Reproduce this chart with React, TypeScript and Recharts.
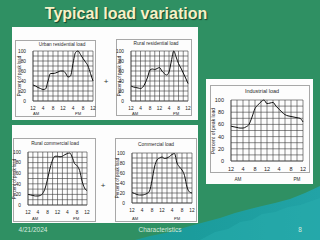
import React from "react";
import { LineChart, Line, XAxis, YAxis, CartesianGrid } from "recharts";

// Hour of day, 0 = midnight, 24 = next midnight
const hours = [0, 1, 2, 3, 4, 5, 6, 7, 8, 9, 10, 11, 12, 13, 14, 15, 16, 17, 18, 19, 20, 21, 22, 23, 24];
const xTicks = [0, 2, 4, 6, 8, 10, 12, 14, 16, 18, 20, 22, 24];
const xTickLabels: Record<number, string> = { 0: "12", 4: "4", 8: "8", 12: "12", 16: "4", 20: "8", 24: "12" };
const yTicks = [0, 10, 20, 30, 40, 50, 60, 70, 80, 90, 100];
const yTickLabels = [0, 20, 40, 60, 80, 100];

// Percent of peak load, hourly
const urbanResidential = [32, 30, 27, 25, 23, 24, 40, 55, 55, 56, 58, 60, 60, 56, 48, 50, 75, 97, 100, 93, 85, 78, 70, 55, 40];
const ruralResidential = [30, 28, 27, 26, 25, 28, 36, 48, 62, 64, 63, 65, 67, 60, 55, 52, 58, 80, 100, 88, 75, 66, 56, 46, 35];
const industrial = [57, 56, 55, 54, 54, 56, 60, 72, 86, 92, 97, 100, 94, 95, 96, 90, 85, 80, 76, 74, 73, 72, 71, 70, 64];
const ruralCommercial = [20, 19, 18, 17, 17, 18, 22, 32, 50, 70, 85, 92, 92, 91, 92, 95, 97, 98, 90, 78, 74, 65, 45, 32, 27];
const commercial = [21, 19, 17, 16, 16, 17, 19, 24, 45, 72, 86, 90, 92, 89, 90, 93, 97, 99, 80, 72, 66, 55, 32, 22, 20];

const FONT = "'Liberation Sans', Arial, sans-serif";

type Rect = [number, number, number, number];

type LoadChartProps = {
  title: string;
  values: number[];
  plot: Rect;
  box: Rect;
  titlePos: [number, number];
  labelX: number;
  amX: number;
  pmX: number;
  ampmY: number;
  fs: number;
};

const centered = (x: number, y: number, fs: number, extra: React.CSSProperties = {}): React.CSSProperties => ({
  position: "absolute",
  left: x,
  top: y,
  transform: "translate(-50%, -50%)",
  fontSize: fs,
  lineHeight: 1,
  whiteSpace: "nowrap",
  fontFamily: FONT,
  color: "#2a2a2a",
  ...extra,
});

function LoadChart({ title, values, plot, box, titlePos, labelX, amX, pmX, ampmY, fs }: LoadChartProps) {
  const [px, py, pw, ph] = plot;
  const L = 17, T = 2, R = 3, B = 13;
  const data = hours.map((h, i) => ({ h, v: values[i] }));
  const tickStyle = { fontSize: fs, fill: "#222", fontFamily: FONT };
  return (
    <>
      <div
        style={{
          position: "absolute",
          left: box[0],
          top: box[1],
          width: box[2],
          height: box[3],
          border: "1px solid #a8a8a8",
          boxSizing: "border-box",
        }}
      />
      <div style={centered(titlePos[0], titlePos[1], fs)}>{title}</div>
      <div style={centered(labelX, py + ph / 2, fs * 0.92, { transform: "translate(-50%, -50%) rotate(-90deg)" })}>
        Percent of peak load
      </div>
      <div style={centered(amX, ampmY, fs * 0.85)}>AM</div>
      <div style={centered(pmX, ampmY, fs * 0.85)}>PM</div>
      <div style={{ position: "absolute", left: px - L, top: py - T }}>
        <LineChart
          width={pw + L + R}
          height={ph + T + B}
          data={data}
          margin={{ top: T, right: R, left: 0, bottom: 0 }}
        >
          <CartesianGrid stroke="#3a3a3a" strokeWidth={0.6} />
          <XAxis
            dataKey="h"
            type="number"
            domain={[0, 24]}
            ticks={xTicks}
            interval={0}
            tickFormatter={(v: number) => xTickLabels[v] ?? ""}
            tickLine={false}
            axisLine={{ stroke: "#3a3a3a", strokeWidth: 0.6 }}
            tick={tickStyle}
            tickMargin={0}
            height={B}
          />
          <YAxis
            type="number"
            domain={[0, 100]}
            ticks={yTicks}
            interval={0}
            tickFormatter={(v: number) => (yTickLabels.includes(v) ? String(v) : "")}
            tickLine={false}
            axisLine={{ stroke: "#3a3a3a", strokeWidth: 0.6 }}
            tick={tickStyle}
            tickMargin={1}
            width={L}
          />
          <Line
            type="monotone"
            dataKey="v"
            stroke="#111"
            strokeWidth={1}
            dot={false}
            isAnimationActive={false}
          />
        </LineChart>
      </div>
    </>
  );
}

export default function App() {
  return (
    <div
      style={{
        position: "absolute",
        left: 0,
        top: 0,
        width: 320,
        height: 240,
        overflow: "hidden",
        background: "#2f9063",
        fontFamily: FONT,
      }}
    >
      {/* teal landscape in the lower right corner */}
      <div
        style={{
          position: "absolute",
          left: 0,
          top: 0,
          width: 320,
          height: 240,
          background: "linear-gradient(90deg, #1f9a8c 0%, #1b9c9c 60%, #22a3a6 100%)",
          clipPath:
            "polygon(135px 240px, 150px 236px, 170px 232px, 190px 226px, 205px 222px, 220px 218px, 235px 213px, 250px 209px, 262px 206px, 275px 203px, 290px 199px, 305px 193px, 320px 186px, 320px 240px)",
        }}
      />
      <div
        style={{
          position: "absolute",
          left: 0,
          top: 0,
          width: 320,
          height: 240,
          background: "#2bb0b0",
          opacity: 0.45,
          clipPath:
            "polygon(200px 240px, 215px 232px, 228px 229px, 240px 222px, 252px 220px, 262px 214px, 275px 212px, 288px 207px, 300px 205px, 320px 198px, 320px 240px)",
        }}
      />

      <div
        style={{
          position: "absolute",
          left: 126,
          top: 14,
          transform: "translate(-50%, -50%)",
          fontSize: 16,
          fontWeight: "bold",
          color: "#f6f1c6",
          whiteSpace: "nowrap",
          textShadow: "1px 1px 1px rgba(0,0,0,0.55)",
          lineHeight: 1,
        }}
      >
        Typical load variation
      </div>

      {/* white panels */}
      <div style={{ position: "absolute", left: 12, top: 27, width: 186, height: 93, background: "#fdfdfd" }} />
      <div style={{ position: "absolute", left: 12, top: 125, width: 186, height: 98, background: "#fdfdfd" }} />
      <div style={{ position: "absolute", left: 206, top: 79, width: 107, height: 105, background: "#fdfdfd" }} />

      <LoadChart
        title="Urban residential load"
        values={urbanResidential}
        plot={[33, 51, 60, 50]}
        box={[15, 40, 81, 77]}
        titlePos={[62, 44.5]}
        labelX={19.5}
        amX={36}
        pmX={78}
        ampmY={114}
        fs={4.8}
      />
      <LoadChart
        title="Rural residential load"
        values={ruralResidential}
        plot={[131, 51, 57, 50]}
        box={[116, 39, 76, 77]}
        titlePos={[156, 44]}
        labelX={119.5}
        amX={135}
        pmX={176}
        ampmY={114}
        fs={4.8}
      />
      <LoadChart
        title="Industrial load"
        values={industrial}
        plot={[231, 100, 72, 61]}
        box={[210, 85, 100, 88]}
        titlePos={[262, 92]}
        labelX={214}
        amX={238}
        pmX={297}
        ampmY={180}
        fs={5.5}
      />
      <LoadChart
        title="Rural commercial load"
        values={ruralCommercial}
        plot={[28, 152, 59, 53]}
        box={[12.5, 138, 83, 84]}
        titlePos={[55, 144]}
        labelX={15}
        amX={35}
        pmX={76}
        ampmY={219}
        fs={4.8}
      />
      <LoadChart
        title="Commercial load"
        values={commercial}
        plot={[132, 153, 60, 50]}
        box={[115, 138, 82, 84]}
        titlePos={[156, 145]}
        labelX={118}
        amX={135}
        pmX={177}
        ampmY={219}
        fs={4.8}
      />

      <div style={centered(106, 82, 8, { color: "#333" })}>+</div>
      <div style={centered(103, 186, 8, { color: "#333" })}>+</div>

      {/* footer */}
      <div style={centered(33, 230, 6.5, { color: "#d6ebdf" })}>4/21/2024</div>
      <div style={centered(160, 230, 6.5, { color: "#d6ebdf" })}>Characteristics</div>
      <div style={centered(300, 230, 6.5, { color: "#d6ebdf" })}>8</div>
    </div>
  );
}
